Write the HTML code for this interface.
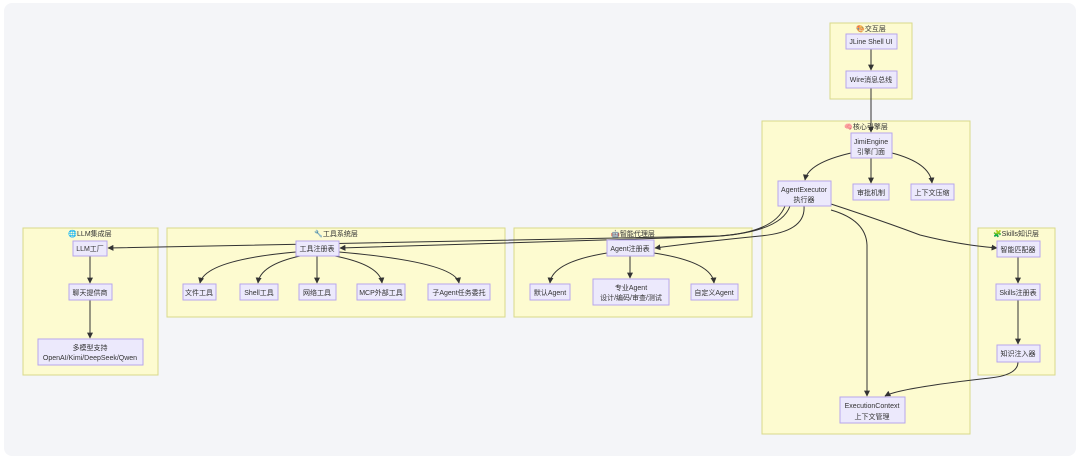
<!DOCTYPE html>
<html><head><meta charset="utf-8"><style>
html,body{margin:0;padding:0;background:#fff}
svg{display:block}
text{font-family:"Liberation Sans","Noto Sans CJK SC",sans-serif;font-size:7px;fill:#333;text-anchor:middle}
.cl{fill:#fdfbd0;stroke:#d9d98a;stroke-width:1}
.nd{fill:#ece9fc;stroke:#b7a6ec;stroke-width:1}
.e{fill:none;stroke:#333;stroke-width:1}
</style></head><body>
<svg width="1080" height="464" viewBox="0 0 1080 464">
<defs><marker id="a" viewBox="0 0 10 10" refX="9" refY="5" markerWidth="6" markerHeight="6" orient="auto"><path d="M0,0L10,5L0,10z" fill="#333"/></marker></defs>
<rect x="4" y="3" width="1072" height="453" rx="8" fill="#f4f5f8"/>
<!-- clusters -->
<rect class="cl" x="830" y="23" width="82" height="76"/><text x="871" y="31">🎨交互层</text>
<rect class="cl" x="762" y="121" width="208" height="313"/><text x="866" y="129">🧠核心引擎层</text>
<rect class="cl" x="23" y="228" width="135" height="147"/><text x="90" y="236">🌐LLM集成层</text>
<rect class="cl" x="167" y="228" width="338" height="89"/><text x="336" y="236">🔧工具系统层</text>
<rect class="cl" x="514" y="228" width="238" height="89"/><text x="633" y="236">🤖智能代理层</text>
<rect class="cl" x="978" y="228" width="77" height="147"/><text x="1016" y="236">🧩Skills知识层</text>
<!-- edges -->
<path class="e" d="M871,49V70" marker-end="url(#a)"/>
<path class="e" d="M871,88V132" marker-end="url(#a)"/>
<path class="e" d="M851,153Q808,163 805,180" marker-end="url(#a)"/>
<path class="e" d="M871,158V183" marker-end="url(#a)"/>
<path class="e" d="M892,153Q930,163 932,183" marker-end="url(#a)"/>
<path class="e" d="M785,206Q775,232 720,236Q400,241 108,248" marker-end="url(#a)"/>
<path class="e" d="M790,206Q780,235 700,237Q500,243 340,248" marker-end="url(#a)"/>
<path class="e" d="M804,206Q806,232 760,236Q700,242 655,248" marker-end="url(#a)"/>
<path class="e" d="M831,210Q866,220 867,245V396" marker-end="url(#a)"/>
<path class="e" d="M831,204Q880,220 920,235Q960,245 997,248" marker-end="url(#a)"/>
<path class="e" d="M90,256V283" marker-end="url(#a)"/>
<path class="e" d="M90,300V338" marker-end="url(#a)"/>
<path class="e" d="M296,252Q205,260 200,283" marker-end="url(#a)"/>
<path class="e" d="M300,256Q260,265 258,283" marker-end="url(#a)"/>
<path class="e" d="M317,256V283" marker-end="url(#a)"/>
<path class="e" d="M335,256Q380,265 382,283" marker-end="url(#a)"/>
<path class="e" d="M339,252Q455,262 459,283" marker-end="url(#a)"/>
<path class="e" d="M607,253Q552,262 550,283" marker-end="url(#a)"/>
<path class="e" d="M630,256V278" marker-end="url(#a)"/>
<path class="e" d="M654,253Q712,262 714,283" marker-end="url(#a)"/>
<path class="e" d="M1018,257V283" marker-end="url(#a)"/>
<path class="e" d="M1018,300V344" marker-end="url(#a)"/>
<path class="e" d="M1018,362Q1018,375 990,378Q900,388 885,396" marker-end="url(#a)"/>
<!-- nodes -->
<rect class="nd" x="846" y="34" width="51" height="15"/><text x="871" y="44">JLine Shell UI</text>
<rect class="nd" x="846" y="71" width="51" height="17"/><text x="871" y="82">Wire消息总线</text>
<rect class="nd" x="851" y="133" width="41" height="25"/><text x="871" y="144">JimiEngine</text><text x="871" y="154">引擎门面</text>
<rect class="nd" x="778" y="181" width="53" height="25"/><text x="804" y="192">AgentExecutor</text><text x="804" y="202">执行器</text>
<rect class="nd" x="853" y="184" width="36" height="16"/><text x="871" y="195">审批机制</text>
<rect class="nd" x="911" y="184" width="43" height="16"/><text x="932" y="195">上下文压缩</text>
<rect class="nd" x="840" y="397" width="65" height="26"/><text x="872" y="408">ExecutionContext</text><text x="872" y="419">上下文管理</text>
<rect class="nd" x="73" y="241" width="34" height="15"/><text x="90" y="251">LLM工厂</text>
<rect class="nd" x="69" y="284" width="43" height="16"/><text x="90" y="295">聊天提供商</text>
<rect class="nd" x="38" y="339" width="105" height="26"/><text x="90" y="350">多模型支持</text><text x="90" y="360">OpenAI/Kimi/DeepSeek/Qwen</text>
<rect class="nd" x="296" y="241" width="43" height="15"/><text x="317" y="251">工具注册表</text>
<rect class="nd" x="183" y="284" width="33" height="16"/><text x="199" y="295">文件工具</text>
<rect class="nd" x="240" y="284" width="38" height="16"/><text x="259" y="295">Shell工具</text>
<rect class="nd" x="299" y="284" width="37" height="16"/><text x="317" y="295">网络工具</text>
<rect class="nd" x="357" y="284" width="48" height="16"/><text x="381" y="295">MCP外部工具</text>
<rect class="nd" x="428" y="284" width="62" height="16"/><text x="459" y="295">子Agent任务委托</text>
<rect class="nd" x="607" y="240" width="47" height="16"/><text x="630" y="251">Agent注册表</text>
<rect class="nd" x="530" y="284" width="40" height="16"/><text x="550" y="295">默认Agent</text>
<rect class="nd" x="593" y="279" width="76" height="26"/><text x="631" y="290">专业Agent</text><text x="631" y="300">设计/编码/审查/测试</text>
<rect class="nd" x="691" y="284" width="47" height="16"/><text x="714" y="295">自定义Agent</text>
<rect class="nd" x="997" y="241" width="43" height="16"/><text x="1018" y="252">智能匹配器</text>
<rect class="nd" x="996" y="284" width="44" height="16"/><text x="1018" y="295">Skills注册表</text>
<rect class="nd" x="997" y="345" width="43" height="17"/><text x="1018" y="356">知识注入器</text>
</svg>
</body></html>
